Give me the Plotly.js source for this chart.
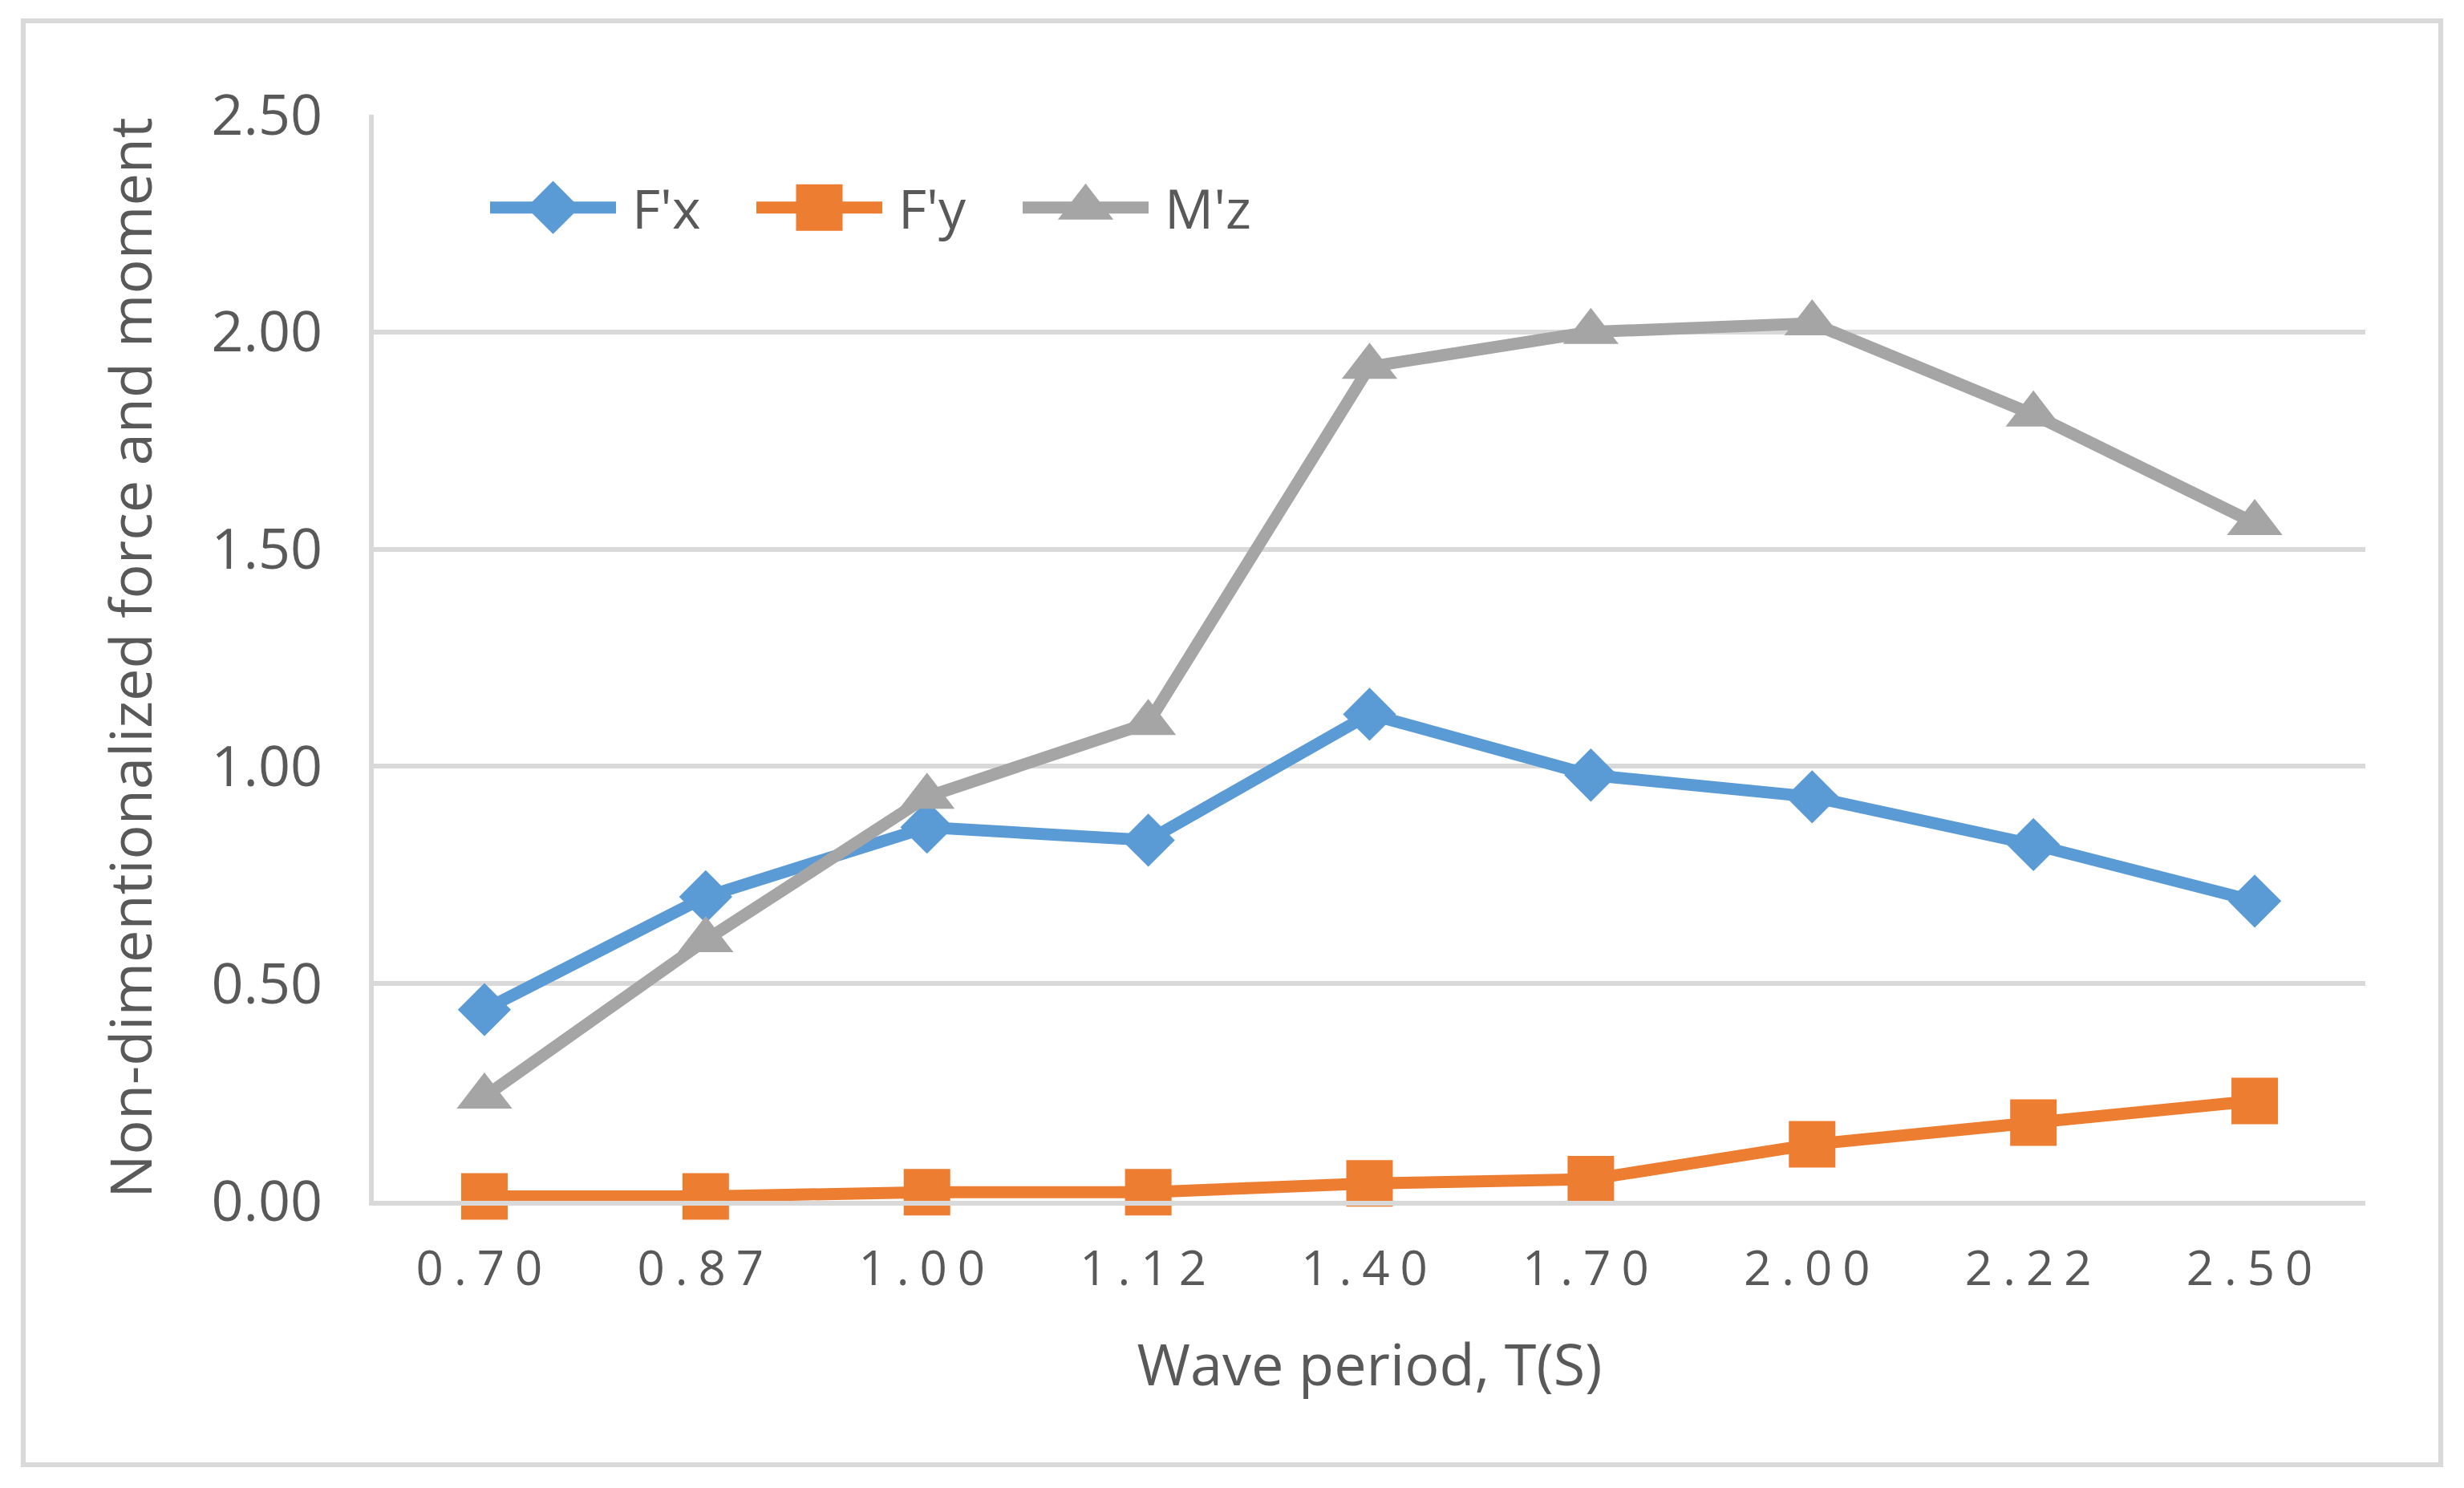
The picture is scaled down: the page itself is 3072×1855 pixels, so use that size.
<!DOCTYPE html>
<html>
<head>
<meta charset="utf-8">
<script src="https://cdn.plot.ly/plotly-3.0.1.min.js"></script>
<style>
  html, body { margin: 0; padding: 0; background: #ffffff; }
  #chart { width: 3072px; height: 1855px; }
  #chart .xtick text { letter-spacing: 13px; }
</style>
</head>
<body>
<div id="chart"></div>
<script>
// ---- data ----
const periods = ["0.70", "0.87", "1.00", "1.12", "1.40", "1.70", "2.00", "2.22", "2.50"];
const fx = [0.44, 0.70, 0.86, 0.83, 1.12, 0.98, 0.93, 0.82, 0.69];
const fy = [0.01, 0.01, 0.02, 0.02, 0.04, 0.05, 0.13, 0.18, 0.23];
const mz = [0.24, 0.60, 0.93, 1.10, 1.92, 2.00, 2.02, 1.81, 1.56];
const seriesNames = ["F'x", "F'y", "M'z"];
const yTicks = [0, 0.5, 1.0, 1.5, 2.0, 2.5];

// ---- styles ----
const colors = ["#5B9BD5", "#ED7D31", "#A5A5A5"];
const symbols = ["diamond", "square", "triangle-up"];
const markerSizes = [51, 58, 60];
const lineWidth = 15;
const textColor = "#595959";
const gridColor = "#D9D9D9";
const fontFamily = "'Open Sans', 'Noto Sans', sans-serif";

const values = [fx, fy, mz];
const data = values.map((v, i) => ({
  type: "scatter",
  mode: "lines+markers",
  x: periods,
  y: v,
  name: seriesNames[i],
  cliponaxis: false,
  line: { color: colors[i], width: lineWidth },
  marker: { symbol: symbols[i], size: markerSizes[i], color: colors[i], line: { width: 0 } }
}));

const L = 466, R = 123, T = 143, B = 358;
const plotW = 3072 - L - R, plotH = 1855 - T - B;
const px2x = p => (p - L) / plotW;
const px2y = p => (1855 - B - p) / plotH;

const layout = {
  width: 3072,
  height: 1855,
  margin: { l: L, r: R, t: T, b: B, pad: 0 },
  paper_bgcolor: "#ffffff",
  plot_bgcolor: "#ffffff",
  font: { family: fontFamily, color: textColor },
  showlegend: true,
  legend: {
    orientation: "h",
    x: px2x(606), xanchor: "left",
    y: px2y(259), yanchor: "middle",
    font: { size: 68, color: textColor, family: fontFamily },
    itemwidth: 172,
    entrywidth: 145,
    bgcolor: "rgba(0,0,0,0)",
    borderwidth: 0,
    traceorder: "normal"
  },
  xaxis: {
    type: "category",
    range: [-0.5, 8.5],
    showgrid: false,
    zeroline: false,
    showline: true,
    linecolor: gridColor,
    linewidth: 6,
    ticks: "",
    tickfont: { size: 60, color: textColor },
    ticklabelstandoff: 27,
    title: { text: "Wave period, T(S)", font: { size: 72, color: textColor }, standoff: 60 },
    fixedrange: true
  },
  yaxis: {
    range: [0, 2.5],
    tickvals: yTicks,
    tickformat: ".2f",
    showgrid: true,
    gridcolor: gridColor,
    gridwidth: 6,
    zeroline: false,
    showline: true,
    linecolor: gridColor,
    linewidth: 6,
    ticks: "",
    tickfont: { size: 70, color: textColor },
    ticklabelstandoff: 44,
    title: { text: "Non-dimentionalized force and moment", font: { size: 72, color: textColor }, standoff: 52 },
    fixedrange: true
  },
  shapes: [{
    type: "rect", xref: "paper", yref: "paper", layer: "below",
    x0: px2x(29), x1: px2x(3043), y0: px2y(1826), y1: px2y(26),
    line: { color: gridColor, width: 6 }, fillcolor: "rgba(0,0,0,0)"
  }]
};

const gd = document.getElementById("chart");
Plotly.newPlot(gd, data, layout, { staticPlot: true, displayModeBar: false }).then(function () {
  const items = gd.querySelectorAll(".legend .traces");
  items.forEach(function (t, i) {
    const ln = t.querySelector("path.js-line");
    if (ln) { ln.setAttribute("d", "M5,0h157"); ln.style.strokeWidth = lineWidth + "px"; }
    const pt = t.querySelector(".legendpoints path.scatterpts");
    if (pt) { pt.setAttribute("transform", "translate(83.5,0) scale(" + (markerSizes[i] / 16) + ")"); }
  });
});
</script>
</body>
</html>
